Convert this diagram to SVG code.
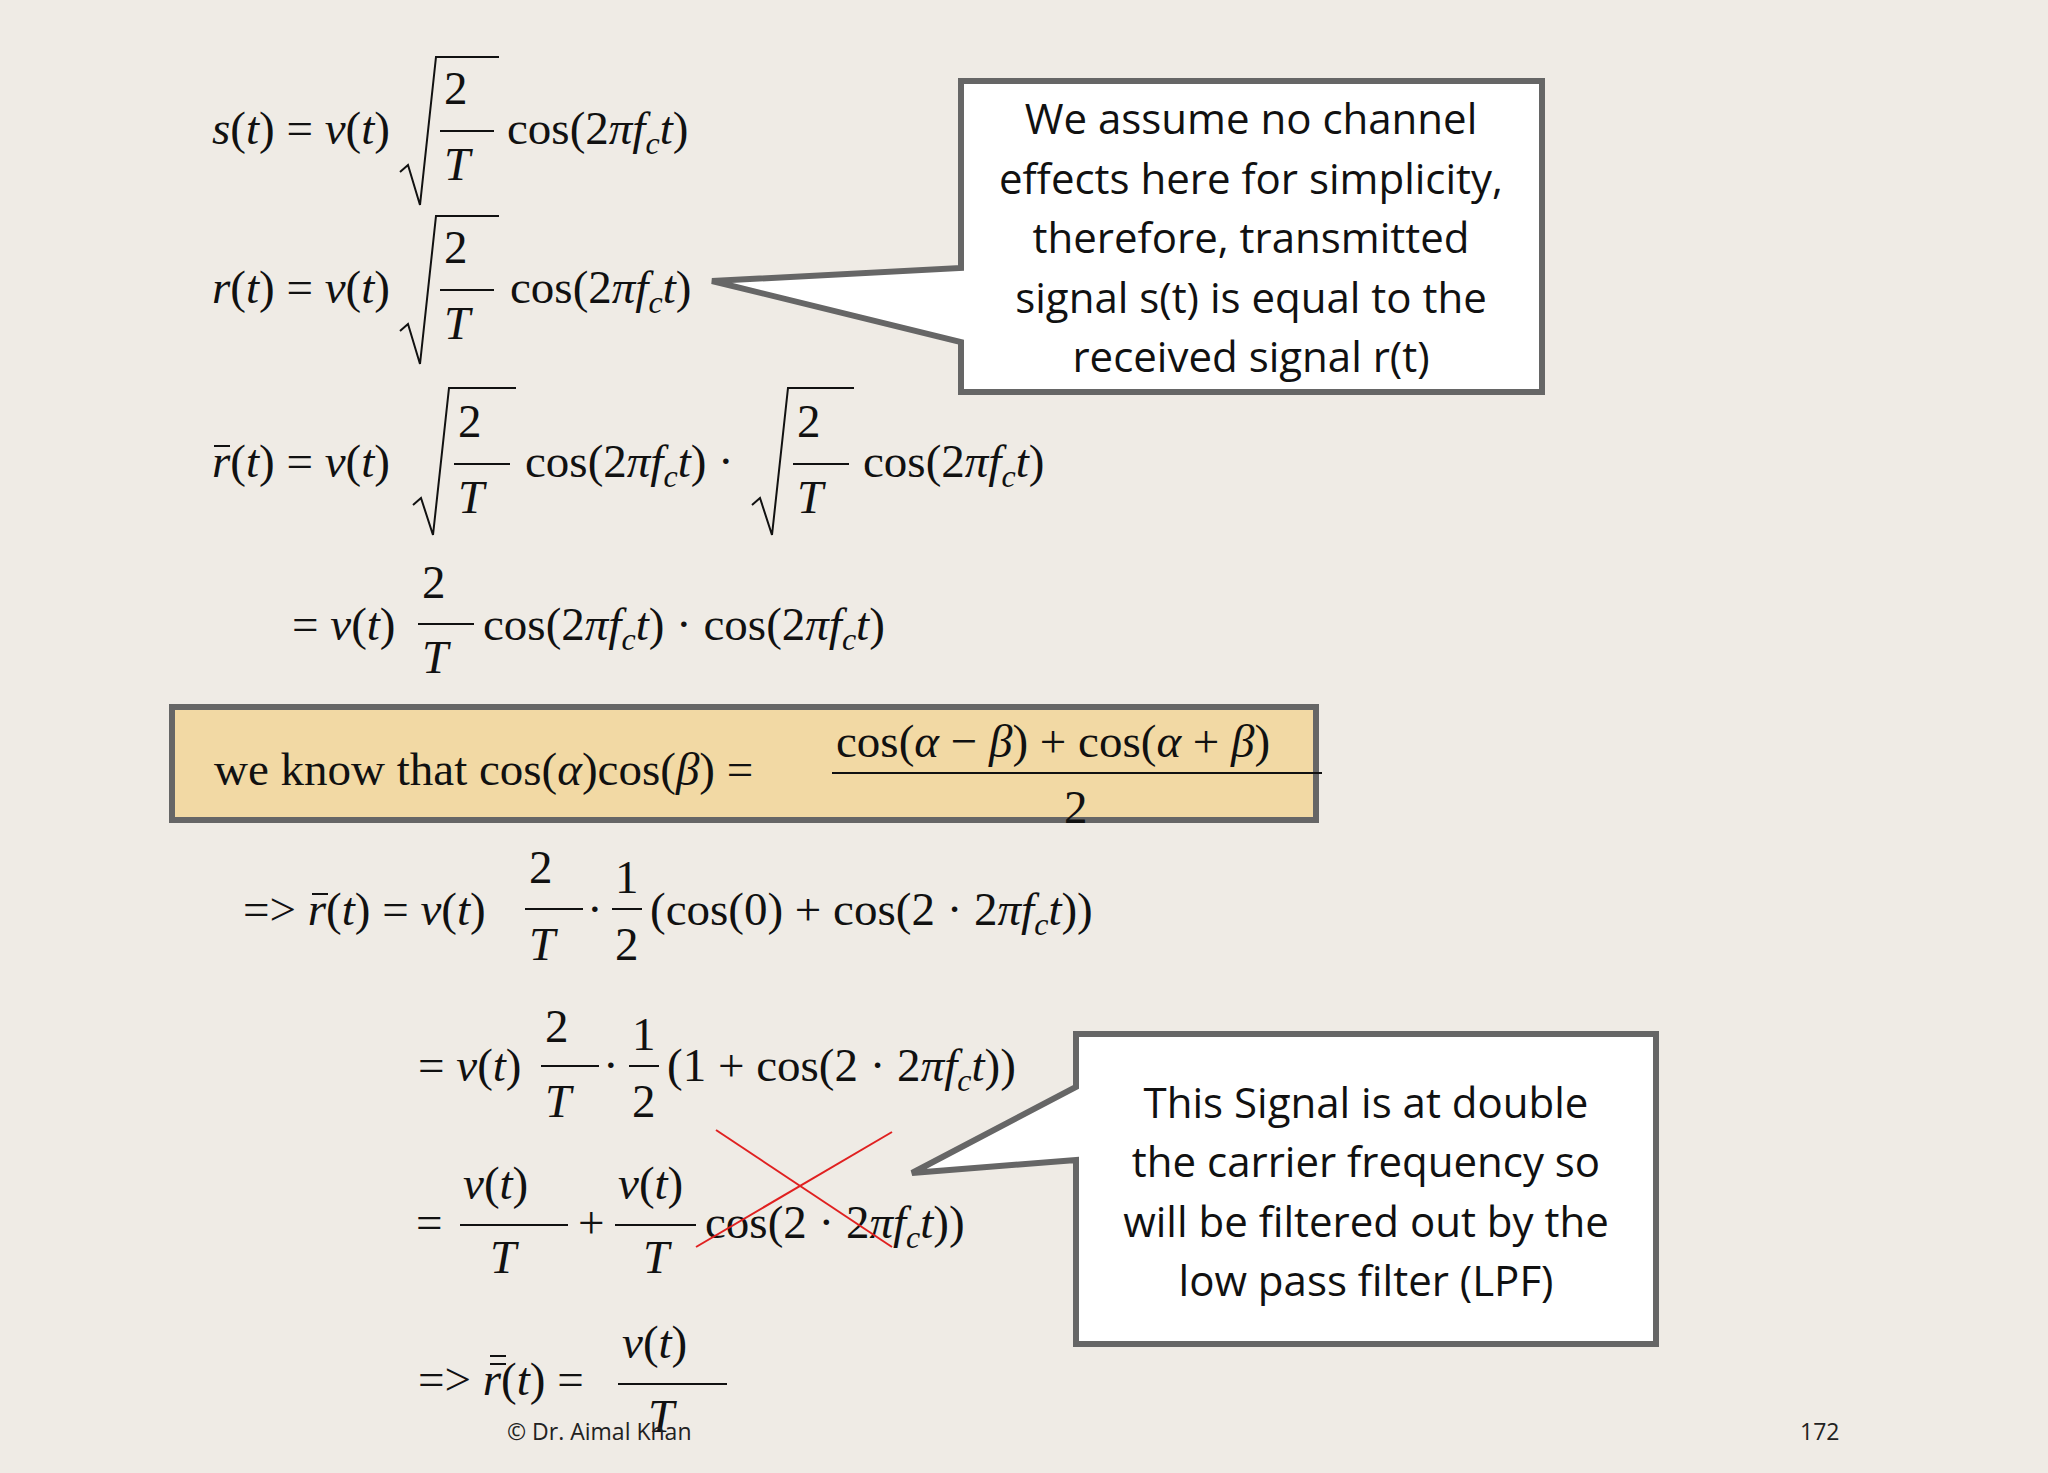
<svg xmlns="http://www.w3.org/2000/svg" width="2048" height="1473" viewBox="0 0 2048 1473">
<style>
.m{font-family:"Liberation Serif",serif;font-size:47px;fill:#111}
.i{font-style:italic}
.s{font-size:32px}
.c{font-family:"Open Sans","Noto Sans",sans-serif;font-size:42px;fill:#111;text-anchor:middle}
.f{stroke:#111;stroke-width:2;fill:none}
.box{fill:#fff;stroke:#666;stroke-width:6}
</style>
<rect width="2048" height="1473" fill="#efebe5"/>
<g id="eq1">
<text class="m" x="212" y="144"><tspan class="i">s</tspan>(<tspan class="i">t</tspan>) = <tspan class="i">v</tspan>(<tspan class="i">t</tspan>)</text>
<path class="f" d="M400 172 L408 165 L420 205 L436 57 L499 57"/>
<text class="m" x="444" y="104">2</text><line class="f" x1="440" y1="131" x2="494" y2="131"/><text class="m i" x="444" y="180">T</text>
<text class="m" x="507" y="144">cos(2<tspan class="i">πf</tspan><tspan class="i s" dy="10">c</tspan><tspan class="i" dy="-10">t</tspan>)</text>
</g>
<g id="eq2">
<text class="m" x="212" y="303"><tspan class="i">r</tspan>(<tspan class="i">t</tspan>) = <tspan class="i">v</tspan>(<tspan class="i">t</tspan>)</text>
<path class="f" d="M400 331 L408 324 L420 364 L436 216 L499 216"/>
<text class="m" x="444" y="263">2</text><line class="f" x1="440" y1="290" x2="494" y2="290"/><text class="m i" x="444" y="339">T</text>
<text class="m" x="510" y="303">cos(2<tspan class="i">πf</tspan><tspan class="i s" dy="10">c</tspan><tspan class="i" dy="-10">t</tspan>)</text>
</g>
<g id="eq3">
<text class="m" x="212" y="477"><tspan class="i">r</tspan>(<tspan class="i">t</tspan>) = <tspan class="i">v</tspan>(<tspan class="i">t</tspan>)</text>
<line class="f" x1="214" y1="446" x2="230" y2="446"/>
<path class="f" d="M413 505 L421 498 L433 535 L449 388 L516 388"/>
<text class="m" x="458" y="437">2</text><line class="f" x1="454" y1="464" x2="510" y2="464"/><text class="m i" x="458" y="513">T</text>
<text class="m" x="525" y="477">cos(2<tspan class="i">πf</tspan><tspan class="i s" dy="10">c</tspan><tspan class="i" dy="-10">t</tspan>) ·</text>
<path class="f" d="M752 505 L760 498 L772 535 L788 388 L854 388"/>
<text class="m" x="797" y="437">2</text><line class="f" x1="793" y1="464" x2="849" y2="464"/><text class="m i" x="797" y="513">T</text>
<text class="m" x="863" y="477">cos(2<tspan class="i">πf</tspan><tspan class="i s" dy="10">c</tspan><tspan class="i" dy="-10">t</tspan>)</text>
</g>
<g id="eq4">
<text class="m" x="292" y="640">= <tspan class="i">v</tspan>(<tspan class="i">t</tspan>)</text>
<text class="m" x="422" y="598">2</text><line class="f" x1="418" y1="624" x2="474" y2="624"/><text class="m i" x="422" y="673">T</text>
<text class="m" x="483" y="640">cos(2<tspan class="i">πf</tspan><tspan class="i s" dy="10">c</tspan><tspan class="i" dy="-10">t</tspan>) · cos(2<tspan class="i">πf</tspan><tspan class="i s" dy="10">c</tspan><tspan class="i" dy="-10">t</tspan>)</text>
</g>
<g id="identity">
<rect x="172" y="707" width="1144" height="113" fill="#f2d9a4" stroke="#666" stroke-width="6"/>
<text class="m" x="214" y="785">we know that cos(<tspan class="i">α</tspan>)cos(<tspan class="i">β</tspan>) =</text>
<text class="m" x="836" y="757">cos(<tspan class="i">α</tspan> − <tspan class="i">β</tspan>) + cos(<tspan class="i">α</tspan> + <tspan class="i">β</tspan>)</text>
<line class="f" x1="832" y1="773" x2="1322" y2="773"/>
<text class="m" x="1064" y="823">2</text>
</g>
<g id="eq6">
<text class="m" x="243" y="925">=&gt; <tspan class="i">r</tspan>(<tspan class="i">t</tspan>) = <tspan class="i">v</tspan>(<tspan class="i">t</tspan>)</text>
<line class="f" x1="312" y1="894" x2="328" y2="894"/>
<text class="m" x="529" y="883">2</text><line class="f" x1="525" y1="909" x2="583" y2="909"/><text class="m i" x="529" y="960">T</text>
<text class="m" x="587" y="925">·</text>
<text class="m" x="615" y="893">1</text><line class="f" x1="612" y1="909" x2="642" y2="909"/><text class="m" x="615" y="960">2</text>
<text class="m" x="650" y="925">(cos(0) + cos(2 · 2<tspan class="i">πf</tspan><tspan class="i s" dy="10">c</tspan><tspan class="i" dy="-10">t</tspan>))</text>
</g>
<g id="eq7">
<text class="m" x="418" y="1081">= <tspan class="i">v</tspan>(<tspan class="i">t</tspan>)</text>
<text class="m" x="545" y="1042">2</text><line class="f" x1="541" y1="1066" x2="599" y2="1066"/><text class="m i" x="545" y="1117">T</text>
<text class="m" x="603" y="1081">·</text>
<text class="m" x="632" y="1050">1</text><line class="f" x1="629" y1="1066" x2="659" y2="1066"/><text class="m" x="632" y="1117">2</text>
<text class="m" x="667" y="1081">(1 + cos(2 · 2<tspan class="i">πf</tspan><tspan class="i s" dy="10">c</tspan><tspan class="i" dy="-10">t</tspan>))</text>
</g>
<g id="eq8">
<text class="m" x="416" y="1238">=</text>
<text class="m" x="463" y="1199"><tspan class="i">v</tspan>(<tspan class="i">t</tspan>)</text><line class="f" x1="460" y1="1225" x2="568" y2="1225"/><text class="m i" x="490" y="1273">T</text>
<text class="m" x="578" y="1238">+</text>
<text class="m" x="618" y="1199"><tspan class="i">v</tspan>(<tspan class="i">t</tspan>)</text><line class="f" x1="615" y1="1225" x2="696" y2="1225"/><text class="m i" x="643" y="1273">T</text>
<text class="m" x="705" y="1238">cos(2 · 2<tspan class="i">πf</tspan><tspan class="i s" dy="10">c</tspan><tspan class="i" dy="-10">t</tspan>))</text>
<line x1="716" y1="1130" x2="892" y2="1247" stroke="#e02020" stroke-width="2"/>
<line x1="696" y1="1247" x2="892" y2="1132" stroke="#e02020" stroke-width="2"/>
</g>
<g id="eq9">
<text class="m" x="418" y="1395">=&gt; <tspan class="i">r</tspan>(<tspan class="i">t</tspan>) =</text>
<line class="f" x1="490" y1="1356" x2="506" y2="1356"/><line class="f" x1="490" y1="1364" x2="506" y2="1364"/>
<text class="m" x="622" y="1358"><tspan class="i">v</tspan>(<tspan class="i">t</tspan>)</text><line class="f" x1="618" y1="1384" x2="727" y2="1384"/><text class="m i" x="648" y="1432">T</text>
</g>
<g id="connectors">
<path class="box" d="M961 81 L1542 81 L1542 392 L961 392 L961 342 L712 281 L961 268 Z"/>
<path class="box" d="M1076 1034 L1656 1034 L1656 1344 L1076 1344 L1076 1160 L912 1173 L1076 1087 Z"/>
</g>
<g id="callout1">
<text class="c" x="1251" y="134">We assume no channel</text>
<text class="c" x="1251" y="194">effects here for simplicity,</text>
<text class="c" x="1251" y="253">therefore, transmitted</text>
<text class="c" x="1251" y="313">signal s(t) is equal to the</text>
<text class="c" x="1251" y="372">received signal r(t)</text>
</g>
<g id="callout2">
<text class="c" x="1366" y="1118">This Signal is at double</text>
<text class="c" x="1366" y="1177">the carrier frequency so</text>
<text class="c" x="1366" y="1237">will be filtered out by the</text>
<text class="c" x="1366" y="1296">low pass filter (LPF)</text>
</g>
<g id="footer">
<text x="507" y="1440" font-family="Open Sans,sans-serif" font-size="23" fill="#222">© Dr. Aimal Khan</text>
<text x="1800" y="1440" font-family="Open Sans,sans-serif" font-size="23" fill="#222">172</text>
</g>
</svg>
